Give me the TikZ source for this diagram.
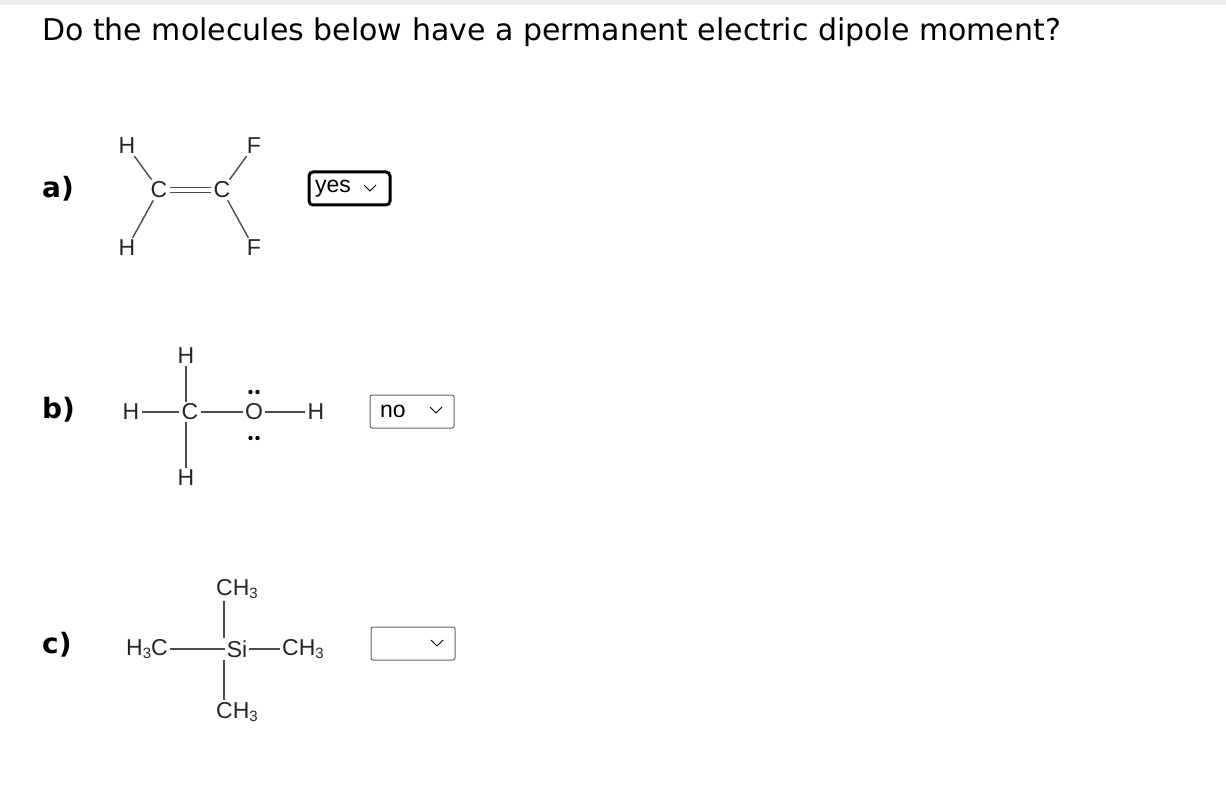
\documentclass[tikz,border=0pt]{standalone}
\usepackage{fontspec}
\setmainfont{Liberation Sans}
\newfontfamily\titlefont{DejaVu Sans}
\newcommand{\sbt}[1]{\raisebox{-0.3ex}{\fontsize{15}{15}\selectfont #1}}
\begin{document}
\begin{tikzpicture}[x=1pt,y=-1pt,
  atom/.style={inner sep=2pt,font=\fontsize{23}{23}\selectfont,text=black!85},
  bond/.style={line width=1.4pt,black!70},
  lbl/.style={font=\titlefont\bfseries\fontsize{28}{28}\selectfont,inner sep=0pt,anchor=west},
  dd/.style={draw=black!60,rounded corners=2pt,line width=1pt},
  ddtxt/.style={font=\fontsize{23}{23}\selectfont,inner sep=0pt},
  chev/.style={line width=1pt,black}]
\useasboundingbox (0,0) rectangle (1226,802);
\fill[black!7] (0,0) rectangle (1226,5);
\node[anchor=west,inner sep=0pt,font=\titlefont\fontsize{30}{30}\selectfont] (title) at (42,32) {Do the molecules below have a permanent electric dipole moment?};
% a
\node[lbl] (la) at (42,189) {a)};
\node[atom] (aH1) at (127,146) {H};
\node[atom] (aH2) at (127,248) {H};
\node[atom] (aC1) at (159,190) {C};
\node[atom] (aC2) at (222,190) {C};
\node[atom] (aF1) at (254,146) {F};
\node[atom] (aF2) at (254,248) {F};
\draw[bond] (aH1) -- (aC1); \draw[bond] (aH2) -- (aC1);
\draw[bond] (aF1) -- (aC2); \draw[bond] (aF2) -- (aC2);
\draw[bond] ([yshift=-2.5pt]aC1.east) -- ([yshift=-2.5pt]aC2.west);
\draw[bond] ([yshift=2.5pt]aC1.east) -- ([yshift=2.5pt]aC2.west);
\draw[draw=black,line width=3pt,rounded corners=4pt] (309,172) rectangle (390,205);
\node[ddtxt,anchor=west] (ya) at (315,189) {yes};
\draw[chev] (364,185) -- (370,191) -- (376,185);
% b
\node[lbl] (lb) at (42,410) {b)};
\node[atom] (bH1) at (131,412) {H};
\node[atom] (bC) at (190,412) {C};
\node[atom] (bO) at (254,412) {O};
\node[atom] (bH2) at (316,412) {H};
\node[atom] (bHt) at (186,356) {H};
\node[atom] (bHb) at (186,478) {H};
\draw[bond] (bH1) -- (bC); \draw[bond] (bC) -- (bO); \draw[bond] (bO) -- (bH2);
\draw[bond] (bHt) -- (bHt|-bC.north); \draw[bond] (bHb) -- (bHb|-bC.south);
\foreach \dx in {-3.5,3.5}{\fill (254+\dx,392) circle (2.2pt); \fill (254+\dx,438) circle (2.2pt);}
\draw[dd] (370,395) rectangle (454,428);
\node[ddtxt,anchor=west] (nb) at (380,411) {no};
\draw[chev] (430,407) -- (436,413) -- (442,407);
% c
\node[lbl] (lc) at (42,645) {c)};
\node[atom] (cSi) at (237,649) {Si};
\node[atom] (cT) at (237,589) {CH\sbt{3}};
\node[atom] (cB) at (237,712) {CH\sbt{3}};
\node[atom] (cL) at (147,649) {H\sbt{3}C};
\node[atom] (cR) at (303,649) {CH\sbt{3}};
\coordinate (vx) at (224,0);
\draw[bond] (cL) -- (cSi); \draw[bond] (cSi) -- (cR);
\draw[bond] (vx|-cT.south) -- (vx|-cSi.north);
\draw[bond] (vx|-cSi.south) -- (vx|-cB.north);
\draw[dd] (371,627) rectangle (455,660);
\draw[chev] (431,640) -- (437,646) -- (443,640);
\end{tikzpicture}
\end{document}
